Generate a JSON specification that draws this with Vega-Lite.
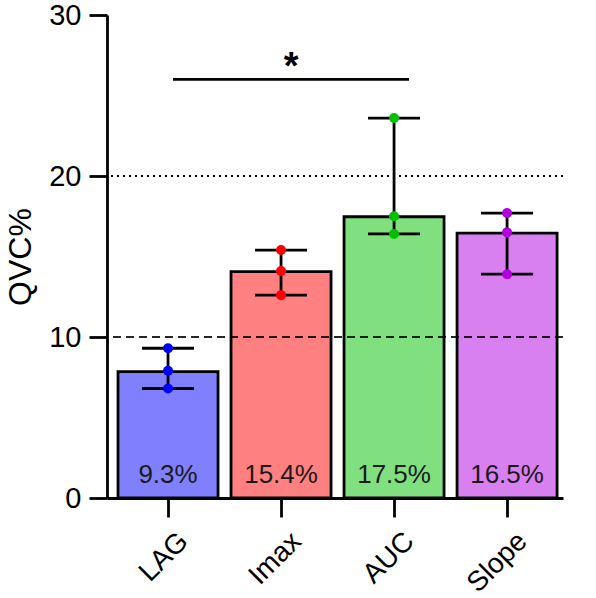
{
  "$schema": "https://vega.github.io/schema/vega-lite/v6.json",
  "autosize": "none",
  "padding": {"left": 107, "top": 15, "right": 33, "bottom": 100},
  "width": 456,
  "height": 483,
  "background": "white",
  "config": {
    "view": {"stroke": null},
    "font": "Liberation Sans",
    "axis": {"grid": false, "domainColor": "black", "tickColor": "black", "labelColor": "black", "titleColor": "black", "domainWidth": 2.8, "tickWidth": 2.8, "labelFont": "Liberation Sans", "titleFont": "Liberation Sans"}
  },
  "datasets": {
    "bars": [
      {"group": "LAG", "median": 7.85, "min": 6.8, "max": 9.3, "label": "9.3%"},
      {"group": "Imax", "median": 14.06, "min": 12.6, "max": 15.4, "label": "15.4%"},
      {"group": "AUC", "median": 17.47, "min": 16.4, "max": 23.6, "label": "17.5%"},
      {"group": "Slope", "median": 16.45, "min": 13.9, "max": 17.7, "label": "16.5%"}
    ],
    "points": [
      {"group": "LAG", "value": 9.3},
      {"group": "LAG", "value": 7.9},
      {"group": "LAG", "value": 6.8},
      {"group": "Imax", "value": 15.4},
      {"group": "Imax", "value": 14.1},
      {"group": "Imax", "value": 12.6},
      {"group": "AUC", "value": 23.6},
      {"group": "AUC", "value": 17.5},
      {"group": "AUC", "value": 16.4},
      {"group": "Slope", "value": 17.7},
      {"group": "Slope", "value": 16.5},
      {"group": "Slope", "value": 13.9}
    ],
    "refs": [
      {"level": 10}
    ],
    "refs2": [
      {"level": 20}
    ],
    "sig": [
      {"from": "LAG", "to": "AUC", "mid": "Imax", "level": 26, "mark": "*"}
    ]
  },
  "layer": [
    {
      "data": {"name": "bars"},
      "mark": {"type": "bar", "stroke": "black", "strokeWidth": 2.8},
      "encoding": {
        "x": {
          "field": "group", "type": "nominal", "sort": null, "title": null,
          "scale": {"paddingInner": 0.115, "paddingOuter": 0.075, "align": 0.65},
          "axis": {"labelAngle": -45, "labelFontSize": 28, "tickSize": 19, "labelPadding": 10, "labelOffset": 6}
        },
        "y": {
          "field": "median", "type": "quantitative", "title": "QVC%",
          "scale": {"domain": [0, 30], "nice": false},
          "axis": {"values": [0, 10, 20, 30], "labelFontSize": 29, "titleFontSize": 32, "titleFontWeight": "normal", "tickSize": 18, "labelPadding": 8, "titlePadding": 11}
        },
        "fill": {
          "field": "group", "type": "nominal", "legend": null,
          "scale": {"domain": ["LAG", "Imax", "AUC", "Slope"], "range": ["#8080FF", "#FF8080", "#80E080", "#D880F0"]}
        }
      }
    },
    {
      "data": {"name": "refs"},
      "mark": {"type": "rule", "color": "black", "strokeWidth": 2, "strokeDash": [8, 5], "opacity": 0.85},
      "encoding": {"y": {"field": "level", "type": "quantitative"}}
    },
    {
      "data": {"name": "refs2"},
      "mark": {"type": "rule", "color": "black", "strokeWidth": 2, "strokeDash": [2, 4]},
      "encoding": {"y": {"field": "level", "type": "quantitative"}}
    },
    {
      "data": {"name": "bars"},
      "mark": {"type": "rule", "color": "black", "strokeWidth": 2.8},
      "encoding": {
        "x": {"field": "group", "type": "nominal", "sort": null},
        "y": {"field": "min", "type": "quantitative"},
        "y2": {"field": "max"}
      }
    },
    {
      "data": {"name": "bars"},
      "mark": {"type": "tick", "color": "black", "thickness": 2.8, "opacity": 1},
      "encoding": {
        "x": {"field": "group", "type": "nominal", "sort": null},
        "y": {"field": "min", "type": "quantitative"},
        "size": {"value": 52}
      }
    },
    {
      "data": {"name": "bars"},
      "mark": {"type": "tick", "color": "black", "thickness": 2.8, "opacity": 1},
      "encoding": {
        "x": {"field": "group", "type": "nominal", "sort": null},
        "y": {"field": "max", "type": "quantitative"},
        "size": {"value": 52}
      }
    },
    {
      "data": {"name": "points"},
      "mark": {"type": "circle", "opacity": 1, "size": 100},
      "encoding": {
        "x": {"field": "group", "type": "nominal", "sort": null},
        "y": {"field": "value", "type": "quantitative"},
        "color": {
          "field": "group", "type": "nominal", "legend": null,
          "scale": {"domain": ["LAG", "Imax", "AUC", "Slope"], "range": ["#0000FF", "#FF0000", "#00C000", "#B000E0"]}
        }
      }
    },
    {
      "data": {"name": "bars"},
      "mark": {"type": "text", "fontSize": 26, "color": "#1a1a1a", "baseline": "alphabetic", "dy": -15},
      "encoding": {
        "x": {"field": "group", "type": "nominal", "sort": null},
        "y": {"datum": 0},
        "text": {"field": "label"}
      }
    },
    {
      "data": {"name": "sig"},
      "mark": {"type": "rule", "color": "black", "strokeWidth": 2.8},
      "encoding": {
        "x": {"field": "from", "type": "nominal", "sort": null, "bandPosition": 0.55},
        "x2": {"field": "to", "bandPosition": 0.65},
        "y": {"field": "level", "type": "quantitative"}
      }
    },
    {
      "data": {"name": "sig"},
      "mark": {"type": "text", "fontSize": 38, "fontWeight": "bold", "baseline": "alphabetic", "dy": 0, "color": "black"},
      "encoding": {
        "x": {"field": "mid", "type": "nominal", "sort": null, "bandPosition": 0.6},
        "y": {"field": "level", "type": "quantitative"},
        "text": {"field": "mark"}
      }
    }
  ]
}
